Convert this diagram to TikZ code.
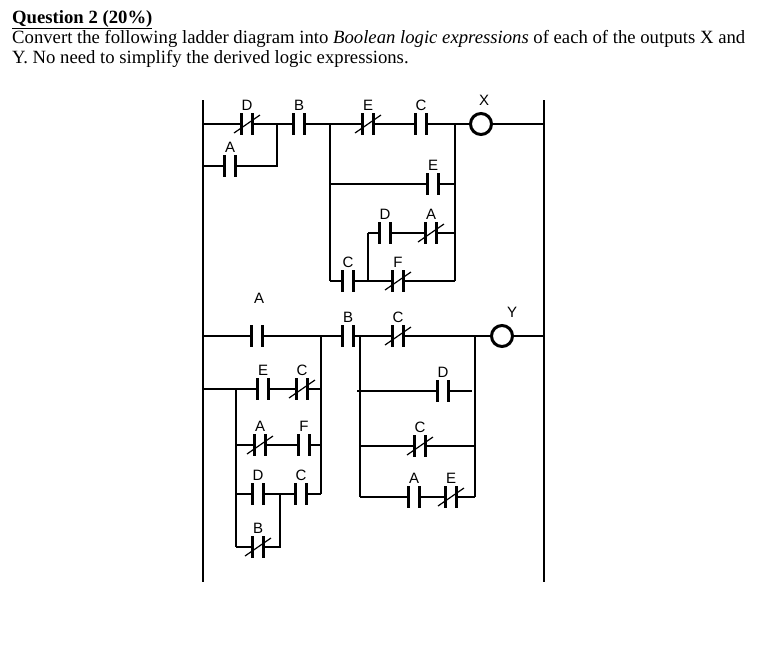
\documentclass[tikz,border=0pt]{standalone}
\usepackage{fontspec}
\setmainfont{Liberation Serif}
\newfontfamily\lbl{Liberation Sans}
\newcommand\cNO[4]{\node[ct] (#1) at (#2,#3) {};
  \draw[bar] (#1.north west)--(#1.south west) (#1.north east)--(#1.south east);
  \node[lab] at (#2,#3-19) {#4};}
\newcommand\cNC[4]{\cNO{#1}{#2}{#3}{#4}\draw[wire] ([shift={(-13pt,-9pt)}]#1.center)--([shift={(13pt,9pt)}]#1.center);}
\begin{document}
\begin{tikzpicture}[x=1pt,y=-1pt,
  ct/.style={rectangle,minimum width=11pt,minimum height=21pt,inner sep=0pt,draw=none},
  bar/.style={line width=3pt},
  wire/.style={line width=1.2pt},
  lab/.style={font=\lbl\fontsize{15}{15}\selectfont,inner sep=0pt},
  coil/.style={circle,draw,line width=3pt,minimum size=21pt,inner sep=0pt},
  txt/.style={anchor=base west,inner sep=0pt,font=\fontsize{18.7}{20}\selectfont}]
\useasboundingbox (0,0) rectangle (766,649);
\node[txt] (t1) at (12,23) {\textbf{\underline{Question 2 (20\%)}}};
\node[txt] (t2) at (12,43) {Convert the following ladder diagram into \textit{Boolean logic expressions} of each of the outputs X and};
\node[txt] (t3) at (12,63) {Y. No need to simplify the derived logic expressions.};
% rails
\coordinate (L0) at (203,100); \coordinate (L1) at (203,582);
\coordinate (R0) at (544,100); \coordinate (R1) at (544,582);
\draw[wire] (L0)--(L1) (R0)--(R1);
% ---- rung X
\coordinate (lx) at (203,124); \coordinate (rx) at (544,124);
\cNC{xd}{247}{124}{D}
\cNO{xa}{230}{166}{A}
\cNO{xb}{299}{124}{B}
\cNC{xe}{368}{124}{E}
\cNO{xc}{421}{124}{C}
\node[coil] (cx) at (481,124) {}; \node[lab] at (484,100) {X};
\coordinate (j1) at (277,124); \coordinate (j1b) at (277,166); \coordinate (lxa) at (203,166);
\coordinate (j2) at (330,124); \coordinate (j3) at (455,124);
\draw[wire] (lx)--(xd.west) (xd.east)--(xb.west) (lxa)--(xa.west) (xa.east)--(j1b)--(j1)
  (xb.east)--(xe.west) (xe.east)--(xc.west) (xc.east)--(cx.west) (cx.east)--(rx);
\cNO{xe2}{433}{184}{E}
\coordinate (j2a) at (330,184); \coordinate (j3a) at (455,184);
\draw[wire] (j2)--(330,281) (j2a)--(xe2.west) (xe2.east)--(j3a) (j3)--(455,281);
\cNO{xd2}{385}{233}{D}
\cNC{xa2}{431}{233}{A}
\cNO{xc2}{348}{281}{C}
\cNC{xf2}{398}{281}{F}
\coordinate (j4) at (368,233); \coordinate (j4b) at (368,281);
\draw[wire] (j4)--(xd2.west) (xd2.east)--(xa2.west) (xa2.east)--(455,233)
  (330,281)--(xc2.west) (xc2.east)--(j4b)--(xf2.west) (xf2.east)--(455,281) (j4)--(j4b);
% ---- rung Y
\cNO{ya}{257}{336}{}
\node[lab] at (259,298) {A};
\cNO{yb}{348}{336}{B}
\cNC{yc}{398}{336}{C}
\node[coil] (cy) at (502,336) {}; \node[lab] at (512,312) {Y};
\coordinate (k1) at (321,336); \coordinate (k2) at (360,336); \coordinate (k3) at (475,336);
\draw[wire] (203,336)--(ya.west) (ya.east)--(yb.west) (yb.east)--(yc.west) (yc.east)--(cy.west) (cy.east)--(544,336);
% left branches
\cNO{ye}{263}{389}{E}
\cNC{yc1}{302}{389}{C}
\cNC{ya2}{260}{445}{A}
\cNO{yf}{304}{445}{F}
\cNO{yd}{258}{494}{D}
\cNO{yc3}{301}{494}{C}
\cNC{yb2}{258}{547}{B}
\draw[wire] (k1)--(321,494) (203,389)--(ye.west) (ye.east)--(yc1.west) (yc1.east)--(321,389)
  (236,389)--(236,547) (236,445)--(ya2.west) (ya2.east)--(yf.west) (yf.east)--(321,445)
  (236,494)--(yd.west) (yd.east)--(yc3.west) (yc3.east)--(321,494)
  (236,547)--(yb2.west) (yb2.east)--(280,547)--(280,494);
% right branches
\cNO{yd4}{443}{391}{D}
\cNC{yc4}{420}{446}{C}
\cNO{ya5}{414}{497}{A}
\cNC{ye5}{451}{497}{E}
\draw[wire] (k2)--(360,497) (k3)--(475,497) (357,391)--(yd4.west) (yd4.east)--(472,391)
  (360,446)--(yc4.west) (yc4.east)--(475,446)
  (360,497)--(ya5.west) (ya5.east)--(ye5.west) (ye5.east)--(475,497);
\end{tikzpicture}
\end{document}
